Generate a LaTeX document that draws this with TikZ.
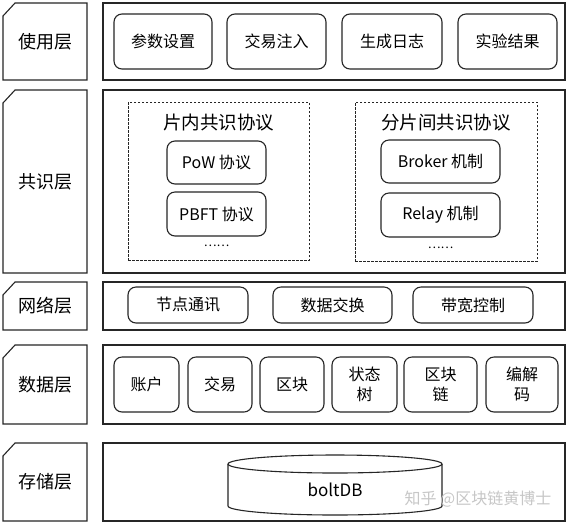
\documentclass[tikz,border=0pt]{standalone}
\usepackage{fontspec}
\setmainfont{Noto Sans CJK SC}
\begin{document}
\begin{tikzpicture}[x=1pt,y=-1pt,
  every node/.style={inner sep=0pt, outer sep=0pt},
  frame/.style={draw=black!85, line width=1.1pt},
  labeltext/.style={font=\fontsize{18}{20}\selectfont},
  panel/.style={frame, minimum width=462pt},
  item/.style={frame, rounded corners=8pt, align=center, font=\fontsize{16}{20}\selectfont},
  group/.style={draw=black!85, line width=0.9pt, dash pattern=on 2.5pt off 1.5pt},
  grouptitle/.style={font=\fontsize{18.5}{20}\selectfont},
  dots/.style={font=\fontsize{12}{14}\selectfont},
  watermark/.style={font=\fontsize{16}{18}\selectfont, text=black!22}]
\useasboundingbox (0,0) rectangle (569,523);
\fill[white] (0,0) rectangle (569,523);
\newcommand\LayerLabel[4]{%
  \draw[frame] (3,#2+13) -- (15,#2) -- (87,#2) -- (87,#3) -- (3,#3) -- cycle;
  \node[labeltext] (#1) at (45,{(#2+#3)/2}) {#4};}
% layer labels
\LayerLabel{l1}{3}{80}{使用层}
\LayerLabel{l2}{90}{273}{共识层}
\LayerLabel{l3}{282}{330}{网络层}
\LayerLabel{l4}{345}{424}{数据层}
\LayerLabel{l5}{443}{521}{存储层}
% panels
\node[panel, minimum height=77pt] (p1) at (334,41.5) {};
\node[panel, minimum height=183pt] (p2) at (334,181.5) {};
\node[panel, minimum height=48pt] (p3) at (334,306) {};
\node[panel, minimum height=79pt] (p4) at (334,384.5) {};
\node[panel, minimum height=78pt] (p5) at (334,482) {};
% row 1
\node[item, minimum width=98pt, minimum height=55pt] (a1) at (163,41.5) {参数设置};
\node[item, minimum width=99pt, minimum height=55pt] (a2) at (276.5,41.5) {交易注入};
\node[item, minimum width=100pt, minimum height=55pt] (a3) at (392,41.5) {生成日志};
\node[item, minimum width=99pt, minimum height=55pt] (a4) at (507.5,41.5) {实验结果};
% row 2
\node[group, minimum width=181pt, minimum height=158pt] (g1) at (218.5,181) {};
\node[group, minimum width=182pt, minimum height=159pt] (g2) at (446,181.5) {};
\node[grouptitle] (t1) at (218.5,123) {片内共识协议};
\node[grouptitle] (t2) at (446,123) {分片间共识协议};
\node[item, minimum width=99pt, minimum height=43pt] (b1) at (216.5,162.5) {PoW 协议};
\node[item, minimum width=99pt, minimum height=44pt] (b2) at (216.5,214) {PBFT 协议};
\node[dots] (d1) at (216.5,246) {……};
\node[item, minimum width=119pt, minimum height=43pt] (c1) at (440.5,161.5) {Broker 机制};
\node[item, minimum width=119pt, minimum height=44pt] (c2) at (440.5,215) {Relay 机制};
\node[dots] (d2) at (440.5,248) {……};
% row 3
\node[item, minimum width=120pt, minimum height=36pt] (n1) at (188,305) {节点通讯};
\node[item, minimum width=119pt, minimum height=36pt] (n2) at (332.5,305) {数据交换};
\node[item, minimum width=120pt, minimum height=36pt] (n3) at (473,305) {带宽控制};
% row 4
\node[item, minimum width=65pt, minimum height=55pt] (e1) at (146.5,384.5) {账户};
\node[item, minimum width=64pt, minimum height=55pt] (e2) at (220,384.5) {交易};
\node[item, minimum width=64pt, minimum height=55pt] (e3) at (292,384.5) {区块};
\node[item, minimum width=65pt, minimum height=55pt] (e4) at (364.5,384.5) {状态\\树};
\node[item, minimum width=73pt, minimum height=55pt] (e5) at (440.5,384.5) {区块\\链};
\node[item, minimum width=72pt, minimum height=55pt] (e6) at (522,384.5) {编解\\码};
% row 5 cylinder
\draw[frame] (228,464) -- (228,506) arc[start angle=180, end angle=360, x radius=107pt, y radius=9pt] -- (442,464);
\draw[frame] (335,464) ellipse [x radius=107pt, y radius=9pt];
\node[font=\fontsize{17}{20}\selectfont] (db) at (335,490) {boltDB};
\node[watermark] (wm) at (478,499) {知乎 @区块链黄博士};
\end{tikzpicture}
\end{document}
